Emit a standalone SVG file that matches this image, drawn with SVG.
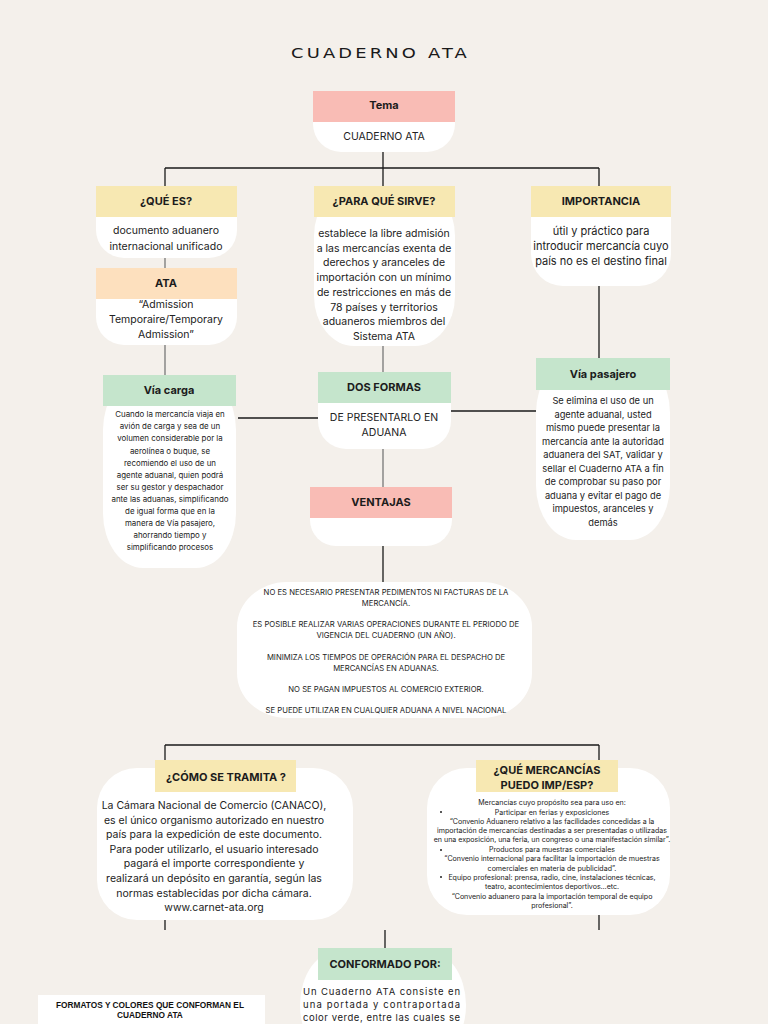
<svg xmlns="http://www.w3.org/2000/svg" width="768" height="1024" viewBox="0 0 768 1024">
<style>
.bg{fill:#f4f0eb}
.pink{fill:#f9bcb5}
.yel{fill:#f7e8b2}
.peach{fill:#fde0be}
.green{fill:#c5e5cc}
.body{fill:#ffffff}
.hd{font-family:Inter,"Open Sans",sans-serif;font-weight:700;font-size:11px;fill:#1c1c1c;text-anchor:middle}
.tx{font-family:Inter,"Open Sans",sans-serif;font-size:10.5px;fill:#222;text-anchor:middle}
.s9{font-size:9.3px}
.s8{font-size:7.9px}
.s7{font-size:7.7px}
.s6{font-size:7.05px}
.s11{font-size:11px}
.s105{font-size:10.5px}
.conn line{stroke:#1a1a1a;stroke-width:1.3}
.conn line.g{stroke:#777}
</style>
<rect class="bg" x="0" y="0" width="768" height="1024"/>
<text x="291" y="58" font-family="DejaVu Sans,sans-serif" font-size="14" letter-spacing="2.5" fill="#1a1a1a" textLength="179" lengthAdjust="spacingAndGlyphs">CUADERNO ATA</text>

<g class="conn">
<line x1="383" y1="150" x2="383" y2="186"/>
<line x1="165" y1="168" x2="599" y2="168"/>
<line x1="165" y1="168" x2="165" y2="186"/>
<line x1="599" y1="168" x2="599" y2="186"/>
<line class="g" x1="165" y1="258" x2="165" y2="268"/>
<line class="g" x1="165" y1="344" x2="165" y2="375"/>
<line class="g" x1="383" y1="344" x2="383" y2="372"/>
<line x1="599" y1="286" x2="599" y2="358"/>
<line x1="238" y1="418" x2="318" y2="418"/>
<line x1="451" y1="411" x2="536" y2="411"/>
<line class="g" x1="383" y1="449" x2="383" y2="487"/>
<line x1="383" y1="546" x2="383" y2="582"/>
<line x1="165" y1="745" x2="599" y2="745"/>
<line x1="165" y1="745" x2="165" y2="768"/>
<line x1="599" y1="745" x2="599" y2="768"/>
<line x1="165" y1="918" x2="165" y2="930"/>
<line x1="599" y1="913" x2="599" y2="930"/>
<line x1="385" y1="930" x2="385" y2="948"/>
</g>

<g id="tema">
<rect class="body" x="313" y="91" width="142" height="61" rx="28" ry="28"/>
<rect class="pink" x="313" y="91" width="142" height="31"/>
<text class="hd" x="384" y="109">Tema</text>
<text class="tx s105" x="384" y="140">CUADERNO ATA</text>
</g>

<g id="que-es">
<rect class="body" x="96" y="186" width="141" height="72" rx="28" ry="28"/>
<rect class="yel" x="96" y="186" width="141" height="31"/>
<text class="hd" x="166" y="205">¿QUÉ ES?</text>
<text class="tx" x="166" y="234">documento aduanero</text>
<text class="tx" x="166" y="250">internacional unificado</text>
</g>

<g id="ata">
<rect class="body" x="96" y="268" width="141" height="77" rx="28" ry="28"/>
<rect class="peach" x="96" y="268" width="141" height="31"/>
<text class="hd" x="166" y="287">ATA</text>
<text class="tx" x="166" y="308">“Admission</text>
<text class="tx" x="166" y="323">Temporaire/Temporary</text>
<text class="tx" x="166" y="338">Admission”</text>
</g>

<g id="via-carga">
<rect class="body" x="103" y="375" width="133" height="193" rx="40" ry="55"/>
<rect class="green" x="103" y="375" width="133" height="31"/>
<text class="hd" x="169" y="394">Vía carga</text>
<g class="tx s8">
<text x="170" y="417">Cuando la mercancía viaja en</text>
<text x="170" y="429">avión de carga y sea de un</text>
<text x="170" y="441">volumen considerable por la</text>
<text x="170" y="454">aerolínea o buque, se</text>
<text x="170" y="466">recomiendo el uso de un</text>
<text x="170" y="478">agente aduanal, quien podrá</text>
<text x="170" y="490">ser su gestor y despachador</text>
<text x="170" y="502">ante las aduanas, simplificando</text>
<text x="170" y="514">de igual forma que en la</text>
<text x="170" y="526">manera de Vía pasajero,</text>
<text x="170" y="538">ahorrando tiempo y</text>
<text x="170" y="550">simplificando procesos</text>
</g>
</g>

<g id="para-que-sirve">
<rect class="body" x="314" y="186" width="141" height="160" rx="40" ry="50"/>
<rect class="yel" x="314" y="186" width="141" height="31"/>
<text class="hd" x="384" y="205">¿PARA QUÉ SIRVE?</text>
<g class="tx">
<text x="384" y="237">establece la libre admisión</text>
<text x="384" y="251.7">a las mercancías exenta de</text>
<text x="384" y="266.4">derechos y aranceles de</text>
<text x="384" y="281">importación con un mínimo</text>
<text x="384" y="295.8">de restricciones en más de</text>
<text x="384" y="310.5">78 países y territorios</text>
<text x="384" y="325">aduaneros miembros del</text>
<text x="384" y="340">Sistema ATA</text>
</g>
</g>

<g id="importancia">
<rect class="body" x="531" y="186" width="140" height="100" rx="32" ry="32"/>
<rect class="yel" x="531" y="186" width="140" height="31"/>
<text class="hd" x="601" y="205">IMPORTANCIA</text>
<g class="tx s11">
<text x="601" y="235">útil y práctico para</text>
<text x="601" y="250">introducir mercancía cuyo</text>
<text x="601" y="265">país no es el destino final</text>
</g>
</g>

<g id="via-pasajero">
<rect class="body" x="536" y="358" width="134" height="182" rx="40" ry="55"/>
<rect class="green" x="536" y="358" width="134" height="32"/>
<text class="hd" x="603" y="378">Vía pasajero</text>
<g class="tx s9">
<text x="603" y="404">Se elimina el uso de un</text>
<text x="603" y="417.5">agente aduanal, usted</text>
<text x="603" y="431">mismo puede presentar la</text>
<text x="603" y="444.5">mercancía ante la autoridad</text>
<text x="603" y="458">aduanera del SAT, validar y</text>
<text x="603" y="471.5">sellar el Cuaderno ATA a fin</text>
<text x="603" y="485">de comprobar su paso por</text>
<text x="603" y="498.5">aduana y evitar el pago de</text>
<text x="603" y="512">impuestos, aranceles y</text>
<text x="603" y="525.5">demás</text>
</g>
</g>

<g id="dos-formas">
<rect class="body" x="318" y="372" width="133" height="77" rx="28" ry="28"/>
<rect class="green" x="318" y="372" width="133" height="31"/>
<text class="hd" x="384" y="391">DOS FORMAS</text>
<text class="tx s105" x="384" y="421">DE PRESENTARLO EN</text>
<text class="tx s105" x="384" y="436">ADUANA</text>
</g>

<g id="ventajas">
<rect class="body" x="310" y="487" width="142" height="59" rx="26" ry="26"/>
<rect class="pink" x="310" y="487" width="142" height="31"/>
<text class="hd" x="381" y="506">VENTAJAS</text>
</g>

<g id="ventajas-lista">
<rect class="body" x="237" y="582" width="295" height="136" rx="50" ry="45"/>
<g class="tx s7">
<text x="386" y="595">NO ES NECESARIO PRESENTAR PEDIMENTOS NI FACTURAS DE LA</text>
<text x="386" y="606">MERCANCÍA.</text>
<text x="386" y="627">ES POSIBLE REALIZAR VARIAS OPERACIONES DURANTE EL PERIODO DE</text>
<text x="386" y="638">VIGENCIA DEL CUADERNO (UN AÑO).</text>
<text x="386" y="660">MINIMIZA LOS TIEMPOS DE OPERACIÓN PARA EL DESPACHO DE</text>
<text x="386" y="671">MERCANCÍAS EN ADUANAS.</text>
<text x="386" y="692">NO SE PAGAN IMPUESTOS AL COMERCIO EXTERIOR.</text>
<text x="386" y="713">SE PUEDE UTILIZAR EN CUALQUIER ADUANA A NIVEL NACIONAL</text>
</g>
</g>

<g id="como-se-tramita">
<rect class="body" x="97" y="768" width="256" height="152" rx="40" ry="40"/>
<rect class="yel" x="155" y="760" width="141" height="32"/>
<text class="hd" x="226" y="781">¿CÓMO SE TRAMITA ?</text>
<g class="tx s105">
<text x="214" y="809">La Cámara Nacional de Comercio (CANACO),</text>
<text x="214" y="823.6">es el único organismo autorizado en nuestro</text>
<text x="214" y="838.2">país para la expedición de este documento.</text>
<text x="214" y="852.8">Para poder utilizarlo, el usuario interesado</text>
<text x="214" y="867.4">pagará el importe correspondiente y</text>
<text x="214" y="882">realizará un depósito en garantía, según las</text>
<text x="214" y="896.6">normas establecidas por dicha cámara.</text>
<text x="214" y="911.2">www.carnet-ata.org</text>
</g>
</g>

<g id="que-mercancias">
<rect class="body" x="427" y="768" width="243" height="147" rx="40" ry="40"/>
<rect class="yel" x="476" y="760" width="142" height="32"/>
<text class="hd" x="547" y="774" font-size="12">¿QUÉ MERCANCÍAS</text>
<text class="hd" x="547" y="789" font-size="12">PUEDO IMP/ESP?</text>
<g class="tx s6">
<text x="552" y="804.5">Mercancías cuyo propósito sea para uso en:</text>
<text x="552" y="814.5">Participar en ferias y exposiciones</text>
<text x="552" y="823.5">“Convenio Aduanero relativo a las facilidades concedidas a la</text>
<text x="552" y="832.5">importación de mercancías destinadas a ser presentadas o utilizadas</text>
<text x="552" y="841.5">en una exposición, una feria, un congreso o una manifestación similar”.</text>
<text x="552" y="851.5">Productos para muestras comerciales</text>
<text x="552" y="860.5">“Convenio internacional para facilitar la importación de muestras</text>
<text x="552" y="870.5">comerciales en materia de publicidad”.</text>
<text x="552" y="879.5">Equipo profesional: prensa, radio, cine, instalaciones técnicas,</text>
<text x="552" y="888.5">teatro, acontecimientos deportivos…etc.</text>
<text x="552" y="898.5">“Convenio aduanero para la importación temporal de equipo</text>
<text x="552" y="907.5">profesional”.</text>
</g>
<circle cx="441" cy="812" r="1" fill="#222"/>
<circle cx="441" cy="850" r="1" fill="#222"/>
<circle cx="441" cy="877" r="1" fill="#222"/>
</g>

<g id="conformado-por">
<rect class="body" x="300" y="950" width="166" height="110" rx="40" ry="60"/>
<rect class="green" x="318" y="948" width="134" height="32"/>
<text class="hd" x="385" y="968">CONFORMADO POR:</text>
<g font-family="Inter,'Open Sans',sans-serif" font-size="9.5" fill="#222">
<text x="303" y="995" textLength="157" lengthAdjust="spacing">Un Cuaderno ATA consiste en</text>
<text x="303" y="1008" textLength="157" lengthAdjust="spacing">una portada y contraportada</text>
<text x="303" y="1021" textLength="157" lengthAdjust="spacing">color verde, entre las cuales se</text>
</g>
</g>

<g id="formatos">
<rect class="body" x="38" y="995" width="227" height="40"/>
<text x="150" y="1008" font-family="Liberation Sans,Arial,sans-serif" font-weight="700" font-size="8.3" fill="#111" text-anchor="middle">FORMATOS Y COLORES QUE CONFORMAN EL</text>
<text x="150" y="1018" font-family="Liberation Sans,Arial,sans-serif" font-weight="700" font-size="8.3" fill="#111" text-anchor="middle">CUADERNO ATA</text>
</g>
</svg>
